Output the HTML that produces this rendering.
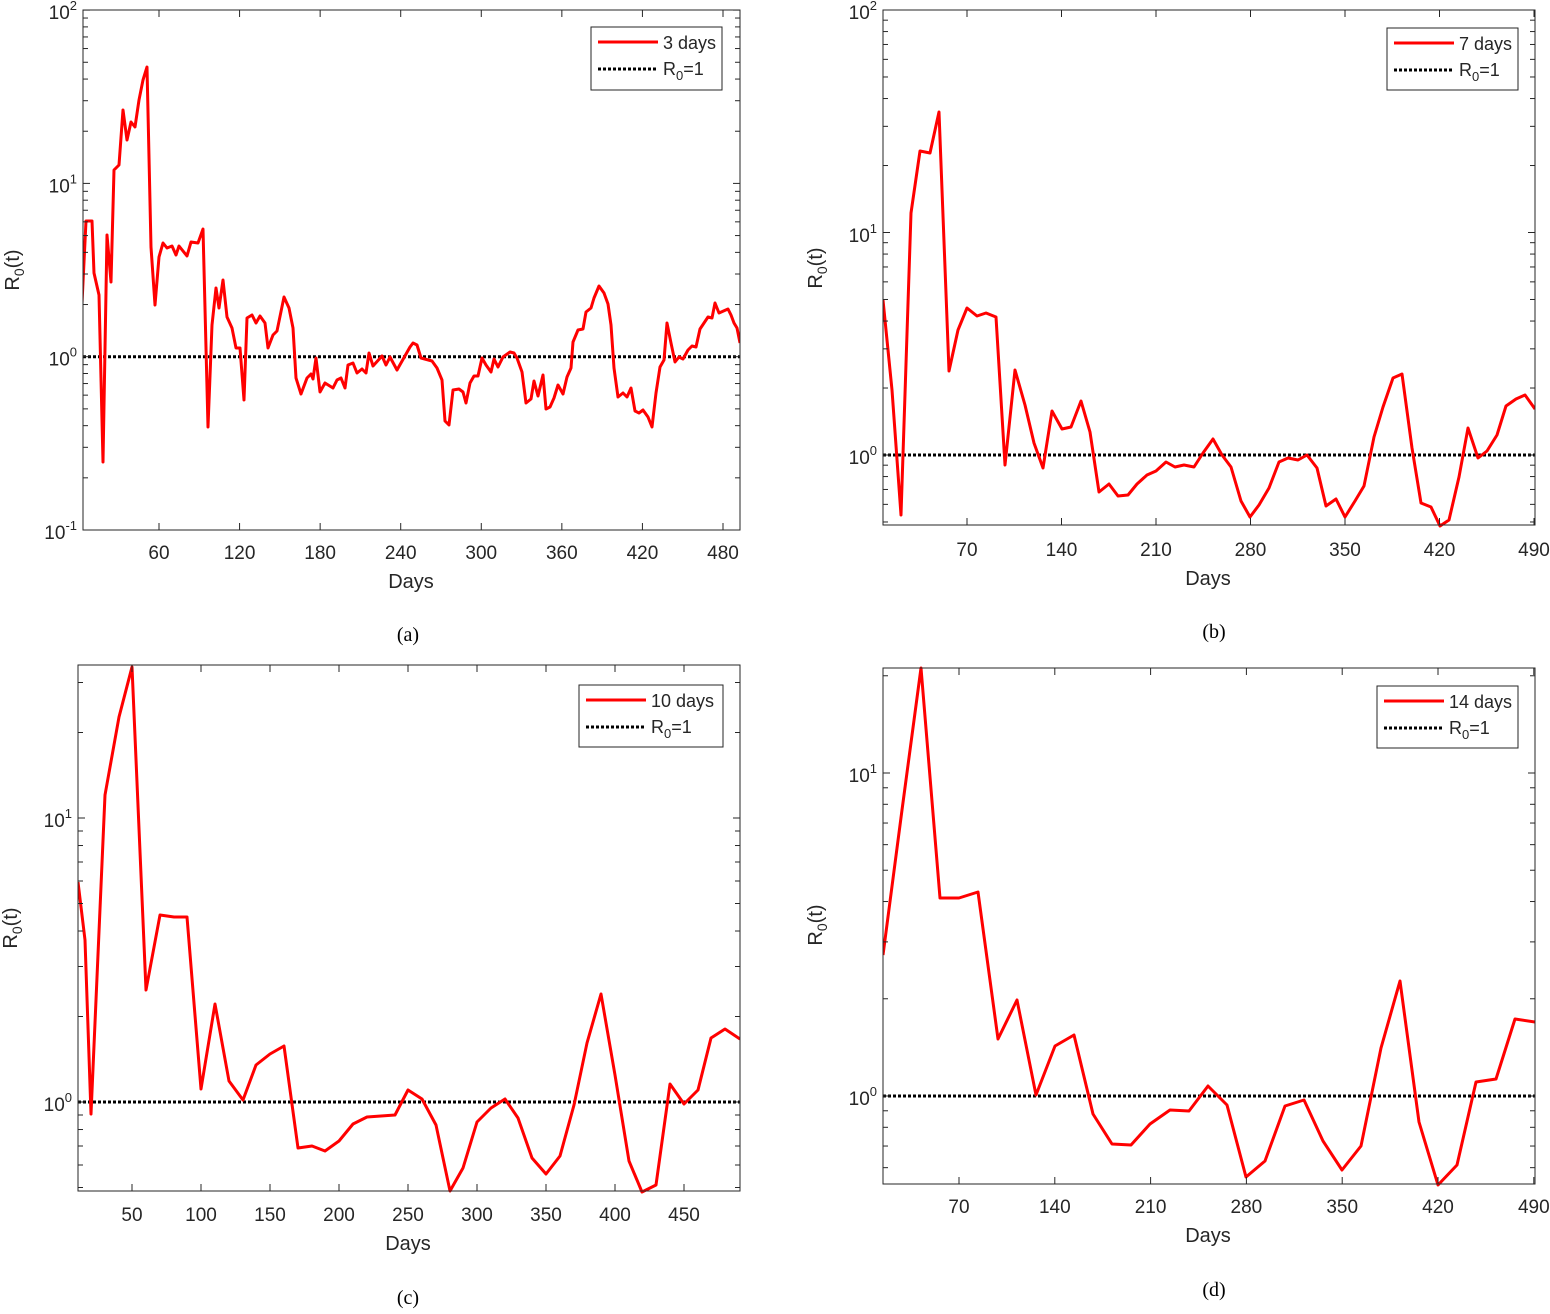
<!DOCTYPE html>
<html><head><meta charset="utf-8"><style>
body{margin:0;background:#fff;width:1550px;height:1309px;overflow:hidden}
svg text{font-family:"Liberation Sans",sans-serif;fill:#262626}
</style></head><body>
<svg id="s" width="1550" height="1309" xmlns="http://www.w3.org/2000/svg"></svg>
<script>
const S=document.getElementById('s');let h='';
const panels=[
{L:83,R:740,T:10,B:530,d0:183.3-173.3,dec:173.3,y0:356.7,lo:0.1,hi:100,majors:[[-1,530],[0,356.7],[1,183.3],[2,10]],
 xt:[60,120,180,240,300,360,420,480].map((v,i)=>[v,159+i*80.57]),xly:552,days:[411,581],cap:['(a)',408,634],ry:[12,270],
 leg:[591,27,131,63,'3 days'],
 pts:[82,303,86,221,92,221,94,273,99,295,103,462,107,235,111,282,114,170,119,165,123,110,127,140,131,122,135,127,139,100,143,80,147,67,151,247,155,305,159,257,163,243,167,248,172,246,176,255,179,246,187,256,191,242,198,243,203,229,208,427,212,325,216,288,219,308,223,280,227,317,232,328,236,348,240,348,244,400,247,318,252,315,256,323,260,316,265,323,268,348,273,335,277,331,284,297,289,308,293,328,296,378,301,394,307,378,311,374,313,379,316,358,320,392,325,383,333,388,337,380,341,378,345,388,348,365,353,363,357,373,362,369,366,373,369,353,373,366,382,356,386,365,390,357,397,370,410,347,413,343,417,345,421,358,432,361,437,368,442,380,445,421,449,425,453,390,459,389,463,392,466,403,470,383,474,376,478,376,482,358,486,365,491,372,494,359,498,367,503,357,510,352,514,353,517,358,522,372,526,403,531,399,534,381,538,396,543,375,546,409,550,407,554,398,558,385,563,394,567,377,571,368,573,342,578,330,583,329,586,312,591,308,594,298,599,286,604,293,608,304,611,325,614,368,618,397,623,393,627,397,631,388,635,411,639,413,643,410,648,417,652,427,656,393,660,367,664,360,667,323,671,343,675,362,679,357,683,359,688,350,692,346,696,347,700,329,704,323,708,317,712,318,715,303,719,313,728,309,731,315,734,323,737,328,740,343]},
{L:883,R:1535,T:10,B:525,dec:222.5,y0:455,majors:[[0,455],[1,233],[2,10]],
 xt:[70,140,210,280,350,420,490].map((v,i)=>[v,967+i*94.5]),xly:549,days:[1208,578],cap:['(b)',1214,631],ry:[815,268],
 leg:[1387,28,131,62,'7 days'],
 pts:[883,300,892,390,901,515,911,213,920,151,930,153,939,112,949,371,958,330,967,308,977,316,986,313,996,317,1005,465,1015,370,1025,405,1034,443,1043,468,1052,411,1062,429,1071,427,1081,401,1090,432,1099,492,1109,484,1118,496,1128,495,1137,484,1147,475,1156,471,1166,462,1175,467,1184,465,1194,467,1203,453,1213,439,1222,455,1231,467,1241,501,1250,517,1259,505,1269,488,1279,462,1288,458,1298,460,1307,455,1317,468,1326,506,1336,499,1345,517,1355,501,1364,486,1374,437,1383,407,1393,378,1402,374,1412,448,1421,503,1431,507,1440,526,1449,520,1459,477,1468,428,1478,458,1487,451,1497,435,1506,406,1516,399,1525,395,1535,409]},
{L:78,R:740,T:665,B:1191,dec:284,y0:1102,majors:[[0,1102],[1,818]],
 xt:[50,100,150,200,250,300,350,400,450].map((v,i)=>[v,132+i*69]),xly:1214,days:[408,1243],cap:['(c)',408,1297],ry:[10,928],
 leg:[579,685,144,62,'10 days'],
 pts:[78,882,85,940,91,1114,105,795,119,717,132,667,146,990,160,915,174,917,187,917,201,1089,215,1004,229,1081,243,1100,256,1065,270,1054,284,1046,298,1148,312,1146,325,1151,339,1141,353,1124,367,1117,381,1116,395,1115,408,1090,422,1099,436,1125,450,1191,463,1168,477,1122,491,1108,505,1099,518,1118,532,1158,546,1174,560,1156,574,1105,587,1043,601,994,615,1075,629,1161,642,1192,656,1185,670,1084,684,1104,698,1090,711,1038,725,1029,740,1039]},
{L:883,R:1535,T:668,B:1184,dec:323,y0:1096,majors:[[0,1096],[1,773]],
 xt:[70,140,210,280,350,420,490].map((v,i)=>[v,959+i*95.8]),xly:1206,days:[1208,1235],cap:['(d)',1214,1289],ry:[815,925],
 leg:[1377,686,141,62,'14 days'],
 pts:[883,955,902,810,921,668,940,898,959,898,978,892,998,1039,1017,1000,1036,1095,1055,1046,1074,1035,1093,1114,1112,1144,1131,1145,1150,1124,1170,1110,1189,1111,1208,1086,1227,1105,1246,1177,1265,1161,1285,1106,1304,1100,1323,1141,1342,1170,1361,1146,1381,1048,1400,981,1419,1122,1438,1185,1457,1165,1476,1082,1496,1079,1515,1019,1535,1022]}
];
for(const p of panels){
 let pts=[];for(let i=0;i<p.pts.length;i+=2)pts.push(p.pts[i]+','+p.pts[i+1]);
 h+=`<clipPath id="c${p.L}${p.T}"><rect x="${p.L}" y="${p.T-3}" width="${p.R-p.L}" height="${p.B-p.T+6}"/></clipPath>`;
 h+=`<line x1="${p.L}" y1="${p.y0}" x2="${p.R}" y2="${p.y0}" stroke="#000" stroke-width="3" stroke-dasharray="3,2"/>`;
 h+=`<polyline clip-path="url(#c${p.L}${p.T})" points="${pts.join(' ')}" fill="none" stroke="#f00" stroke-width="3" stroke-linejoin="round"/>`;
 h+=`<rect x="${p.L}" y="${p.T}" width="${p.R-p.L}" height="${p.B-p.T}" fill="none" stroke="#262626" stroke-width="1"/>`;
 // y ticks
 for(let e=-2;e<=2;e++)for(let k=1;k<=9;k++){
  const y=p.y0-(e+Math.log10(k))*p.dec; if(y<p.T-0.5||y>p.B+0.5)continue;
  const l=k==1?7:5;
  h+=`<line x1="${p.L}" y1="${y}" x2="${p.L+l}" y2="${y}" stroke="#262626"/><line x1="${p.R}" y1="${y}" x2="${p.R-l}" y2="${y}" stroke="#262626"/>`;
 }
 for(const [e,y] of p.majors){
  h+=`<text x="${p.L-6}" y="${y+9}" font-size="19" text-anchor="end">10<tspan dy="-9" font-size="13">${e}</tspan></text>`;
 }
 for(const [v,x] of p.xt){
  h+=`<line x1="${x}" y1="${p.B}" x2="${x}" y2="${p.B-7}" stroke="#262626"/><line x1="${x}" y1="${p.T}" x2="${x}" y2="${p.T+7}" stroke="#262626"/>`;
  h+=`<text x="${x}" y="${p.xly+7}" font-size="19" text-anchor="middle">${v}</text>`;
 }
 h+=`<text x="${p.days[0]}" y="${p.days[1]+7}" font-size="20" text-anchor="middle">Days</text>`;
 h+=`<text transform="translate(${p.ry[0]+7},${p.ry[1]}) rotate(-90)" font-size="20" text-anchor="middle">R<tspan dy="5" font-size="14">0</tspan><tspan dy="-5">(t)</tspan></text>`;
 h+=`<text x="${p.cap[1]}" y="${p.cap[2]+7}" font-size="20" text-anchor="middle" style="font-family:'Liberation Serif',serif;fill:#000">${p.cap[0]}</text>`;
 const [lx,ly,lw,lh,lab]=p.leg;
 h+=`<rect x="${lx}" y="${ly}" width="${lw}" height="${lh}" fill="#fff" stroke="#262626"/>`;
 h+=`<line x1="${lx+7}" y1="${ly+15}" x2="${lx+67}" y2="${ly+15}" stroke="#f00" stroke-width="3"/>`;
 h+=`<line x1="${lx+7}" y1="${ly+42}" x2="${lx+67}" y2="${ly+42}" stroke="#000" stroke-width="3" stroke-dasharray="3,2"/>`;
 h+=`<text x="${lx+72}" y="${ly+22}" font-size="18">${lab}</text>`;
 h+=`<text x="${lx+72}" y="${ly+48}" font-size="18">R<tspan dy="5" font-size="13">0</tspan><tspan dy="-5">=1</tspan></text>`;
}
S.innerHTML=h;
</script>
</body></html>
